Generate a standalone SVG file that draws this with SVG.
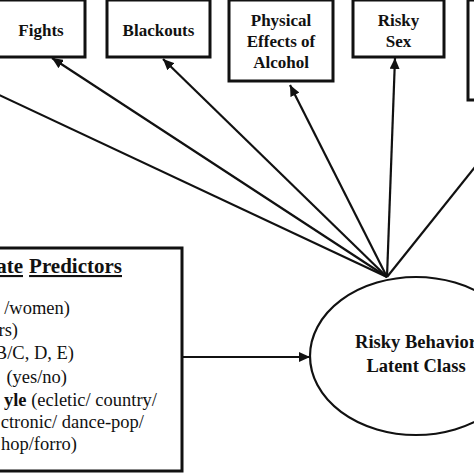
<svg xmlns="http://www.w3.org/2000/svg" width="474" height="474" viewBox="0 0 474 474">
<defs>
<style>
.box{fill:#fff;stroke:#111;stroke-width:3}
.ell{fill:#fff;stroke:#111;stroke-width:2.2}
.lbl{font-family:"Liberation Serif","Times New Roman",serif;font-weight:bold;font-size:17px;fill:#111;text-anchor:middle}
.big{font-family:"Liberation Serif","Times New Roman",serif;font-weight:bold;font-size:18.5px;fill:#111;text-anchor:middle}
.pred{font-family:"Liberation Serif","Times New Roman",serif;font-size:18.5px;fill:#111;text-anchor:end}
.head{font-family:"Liberation Serif","Times New Roman",serif;font-weight:bold;font-size:21px;fill:#111;text-anchor:end;text-decoration:underline}
.con{stroke:#111;stroke-width:2.2;fill:none}
</style>
<marker id="ah" markerUnits="userSpaceOnUse" markerWidth="12" markerHeight="10" refX="11" refY="5" orient="auto">
<path d="M0,0 L11,5 L0,10 z" fill="#111"/>
</marker>
</defs>
<rect width="474" height="474" fill="#fff"/>
<g id="connectors">
<line class="con" x1="387" y1="277" x2="-20" y2="86"/>
<line class="con" x1="387" y1="277" x2="52" y2="58" marker-end="url(#ah)"/>
<line class="con" x1="387" y1="277" x2="163" y2="59" marker-end="url(#ah)"/>
<line class="con" x1="387" y1="277" x2="290" y2="85" marker-end="url(#ah)"/>
<line class="con" x1="387" y1="277" x2="395" y2="58" marker-end="url(#ah)"/>
<line class="con" x1="387" y1="277" x2="495" y2="142"/>
<line class="con" x1="182" y1="357" x2="310" y2="357" marker-end="url(#ah)"/>
</g>
<g id="fights">
<rect class="box" x="-3" y="0" width="88" height="57"/>
<text class="lbl" x="41" y="36">Fights</text>
</g>
<g id="blackouts">
<rect class="box" x="107" y="0" width="103" height="57"/>
<text class="lbl" x="158.5" y="36">Blackouts</text>
</g>
<g id="physical">
<rect class="box" x="229" y="0" width="104" height="81"/>
<text class="lbl" x="281" y="26">Physical</text>
<text class="lbl" x="281" y="47">Effects of</text>
<text class="lbl" x="281" y="68">Alcohol</text>
</g>
<g id="riskysex">
<rect class="box" x="353" y="0" width="91" height="57"/>
<text class="lbl" x="398.5" y="26">Risky</text>
<text class="lbl" x="398.5" y="47">Sex</text>
</g>
<g id="rightbox">
<rect class="box" x="468" y="0" width="30" height="100"/>
</g>
<g id="predictors">
<rect class="box" x="-10" y="248" width="192" height="223"/>
<text class="head" x="23" y="273">ate</text>
<text class="head" x="122" y="273">Predictors</text>
<text class="pred" x="70" y="314">/women)</text>
<text class="pred" x="18" y="336">rs)</text>
<text class="pred" x="74" y="359">B/C, D, E)</text>
<text class="pred" x="67" y="383">(yes/no)</text>
<text class="pred" x="157" y="406"><tspan font-weight="bold">yle</tspan> (ecletic/ country/</text>
<text class="pred" x="144" y="428">ctronic/ dance-pop/</text>
<text class="pred" x="77" y="450">hop/forro)</text>
</g>
<g id="latentclass">
<ellipse class="ell" cx="416" cy="356" rx="106" ry="79"/>
<text class="big" x="416" y="348">Risky Behavior</text>
<text class="big" x="416" y="372">Latent Class</text>
</g>
</svg>
